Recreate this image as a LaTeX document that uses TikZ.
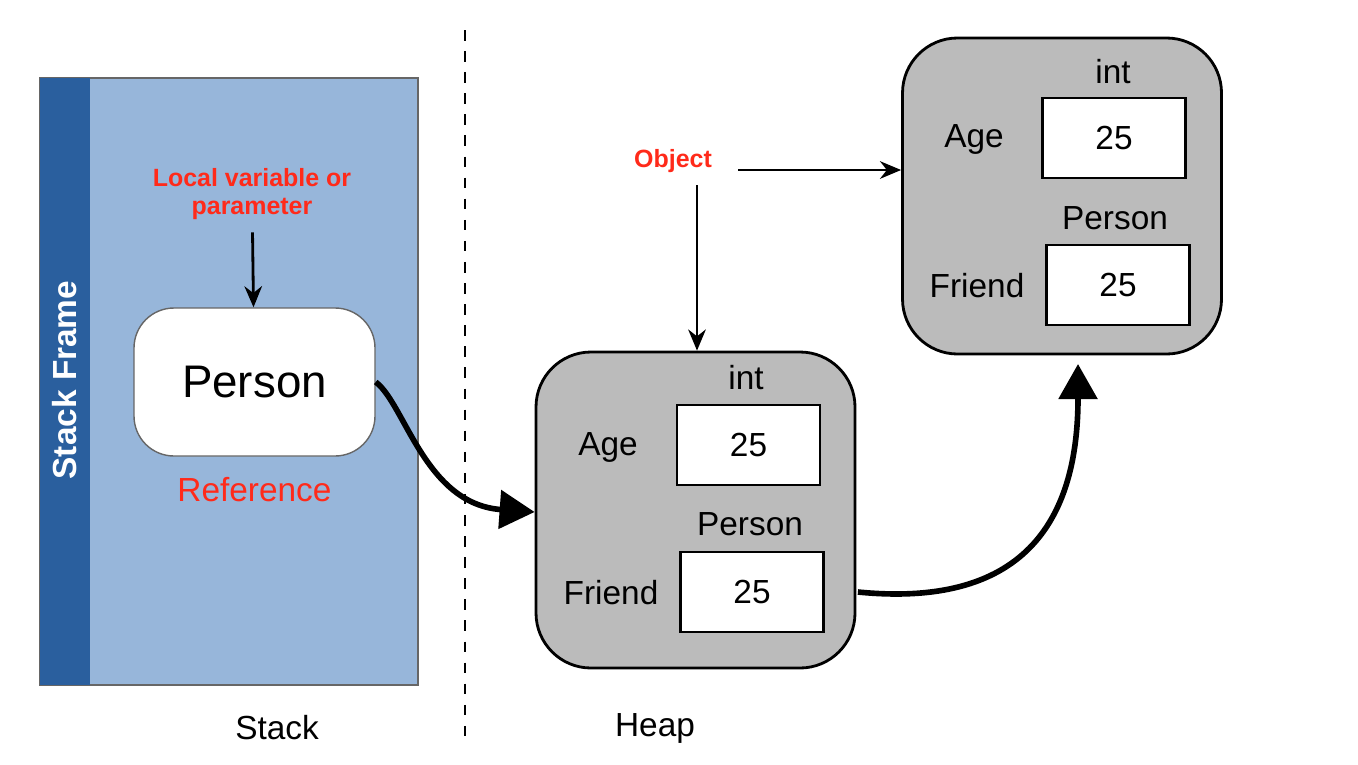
\documentclass[tikz,border=0pt]{standalone}
\usepackage{fontspec}
\setmainfont{Liberation Sans}
\usetikzlibrary{arrows.meta,positioning}
\definecolor{frameblue}{HTML}{97B6DA}
\definecolor{darkblue}{HTML}{2A5F9E}
\definecolor{objgray}{HTML}{BBBBBB}
\definecolor{notered}{HTML}{FF2A1A}
\tikzset{
  obj/.style={draw=black,thick,fill=objgray,rounded corners=0.55cm,minimum width=3.19cm,minimum height=3.16cm},
  field/.style={draw=black,thick,fill=white,minimum width=1.43cm,minimum height=0.8cm,font=\fontsize{9.5}{10}\selectfont},
  lbl/.style={font=\fontsize{9.5}{10}\selectfont},
  note/.style={text=notered,font=\bfseries\fontsize{7.1}{8.2}\selectfont,align=center},
  ptr/.style={-{Stealth[length=6pt,width=5pt]},thick},
  bigptr/.style={-{Triangle[length=0.35cm,width=0.38cm]},line width=1.6pt}
}
\begin{document}
\begin{tikzpicture}
\useasboundingbox (0,0) rectangle (13.58,7.64);
% stack frame
\fill[frameblue,draw=black!60] (0.40,0.79) rectangle (4.18,6.86);
\fill[darkblue] (0.40,0.79) rectangle (0.90,6.86);
\node[rotate=90,text=white,font=\bfseries\fontsize{9.5}{10}\selectfont] (sf) at (0.65,3.84) {Stack Frame};
\node[draw=black!60,fill=white,rounded corners=0.4cm,minimum width=2.41cm,minimum height=1.48cm,font=\fontsize{13}{15}\selectfont] (ref) at (2.545,3.82) {Person};
\node[lbl,text=notered,below=0.08cm of ref] (reflbl) {Reference};
\node[note] (local) at (2.52,5.70) {Local variable or\\parameter};
\draw[ptr] (local) -- (ref);
% divider
\coordinate (dtop) at (4.65,7.34);
\coordinate (dbot) at (4.65,0.26);
\draw[dashed,thick] (dtop) -- (dbot);
\node[lbl] (stack) at (2.77,0.36) {Stack};
\node[lbl] (heap) at (6.55,0.36) {Heap};
% object one
\node[obj] (o1) at (6.955,2.54) {};
\node[lbl] (o1int) at (7.46,3.86) {int};
\node[field] (o1age) at (7.485,3.19) {25};
\node[lbl] (o1agel) at (6.08,3.17) {Age};
\node[lbl] (o1pers) at (7.50,2.40) {Person};
\node[field] (o1fr) at (7.52,1.72) {25};
\node[lbl] (o1frl) at (6.11,1.71) {Friend};
% object two
\node[obj] (o2) at (10.62,5.68) {};
\node[lbl] (o2int) at (11.13,6.92) {int};
\node[field] (o2age) at (11.14,6.26) {25};
\node[lbl] (o2agel) at (9.74,6.25) {Age};
\node[lbl] (o2pers) at (11.15,5.46) {Person};
\node[field] (o2fr) at (11.18,4.79) {25};
\node[lbl] (o2frl) at (9.77,4.78) {Friend};
% object label
\node[note] (objl) at (6.73,6.03) {Object};
\draw[ptr] (objl.east)++(0.14,-0.09) coordinate (oe) -- (o2.west |- oe);
\draw[ptr] (6.97,5.79) coordinate (os) -- (os |- o1.north);
% references
\draw[bigptr] (ref.east) .. controls (4.05,3.6) and (4.25,2.6) .. (o1.west |- 0,2.52);
\draw[bigptr] (o1fr.east) ++(0.33,0.0) coordinate (fs) .. controls (10.3,1.55) and (10.78,2.5) .. (10.78,4.0);
\end{tikzpicture}
\end{document}
